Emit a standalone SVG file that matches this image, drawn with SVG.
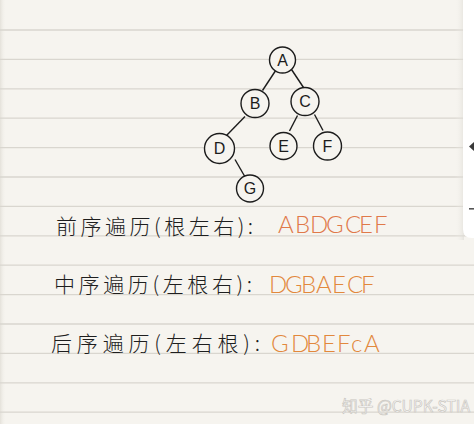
<svg xmlns="http://www.w3.org/2000/svg" width="474" height="424" viewBox="0 0 474 424">
<defs>
<linearGradient id="edge" x1="0" x2="1" y1="0" y2="0">
<stop offset="0" stop-color="#e4e1da"/>
<stop offset="1" stop-color="#f6f4ef" stop-opacity="0"/>
</linearGradient>
<linearGradient id="shadow" x1="0" x2="1" y1="0" y2="0">
<stop offset="0" stop-color="#f6f4ef" stop-opacity="0"/>
<stop offset="1" stop-color="#dcdad4"/>
</linearGradient>
</defs>
<style>
.rule{stroke:#d9d6cf;stroke-width:1.3}
.node circle{fill:#f6f4ef;stroke:#1c1c1c;stroke-width:1.4}
.node text{font-family:"Liberation Sans","DejaVu Sans",sans-serif;font-size:16px;fill:#1c1c1c;text-anchor:middle}
.edge{stroke:#1c1c1c;stroke-width:1.4;fill:none}
.cn{font-family:"Noto Sans CJK SC","Noto Sans",sans-serif;font-size:21px;fill:#1e1e1e;font-weight:300}
.seq{font-family:Lato,"Liberation Sans",sans-serif;font-size:24px;font-weight:300}
</style>
<rect width="474" height="424" fill="#f6f4ef"/>
<rect width="6" height="424" fill="url(#edge)"/>
<g id="rules">
<line class="rule" x1="0" y1="30" x2="474" y2="30"/>
<line class="rule" x1="0" y1="59.4" x2="474" y2="59.4"/>
<line class="rule" x1="0" y1="88.8" x2="474" y2="88.8"/>
<line class="rule" x1="0" y1="118.2" x2="474" y2="118.2"/>
<line class="rule" x1="0" y1="147.6" x2="474" y2="147.6"/>
<line class="rule" x1="0" y1="177" x2="474" y2="177"/>
<line class="rule" x1="0" y1="206.4" x2="474" y2="206.4"/>
<line class="rule" x1="0" y1="235.8" x2="474" y2="235.8"/>
<line class="rule" x1="0" y1="265.2" x2="474" y2="265.2"/>
<line class="rule" x1="0" y1="294.6" x2="474" y2="294.6"/>
<line class="rule" x1="0" y1="324" x2="474" y2="324"/>
<line class="rule" x1="0" y1="353.4" x2="474" y2="353.4"/>
<line class="rule" x1="0" y1="382.8" x2="474" y2="382.8"/>
<line class="rule" x1="0" y1="412.2" x2="474" y2="412.2"/>
</g>
<g id="panel">
<rect x="455" y="0" width="9" height="240" fill="url(#shadow)" opacity="0.6"/>
<path d="M463 0 H474 V238 H472 Q463 238 463 229 Z" fill="#ffffff"/>
<path d="M474 142 L469 146.5 L474 151 Z" fill="#3a3a3a"/>
<rect x="469" y="208" width="5" height="1.6" fill="#555"/>
</g>
<g id="connectors">
<line class="edge" x1="276" y1="70" x2="262.5" y2="90.5"/>
<line class="edge" x1="291.5" y1="69.5" x2="304.5" y2="89"/>
<line class="edge" x1="245" y1="116.5" x2="226" y2="136"/>
<line class="edge" x1="297.5" y1="115.5" x2="289.5" y2="131"/>
<line class="edge" x1="314.5" y1="114.5" x2="323" y2="130.5"/>
<line class="edge" x1="235" y1="159.5" x2="244.5" y2="176"/>
</g>
<g id="node-A" class="node"><circle cx="282.5" cy="60" r="13"/><text x="282.5" y="65.5">A</text></g>
<g id="node-B" class="node"><circle cx="255" cy="103.5" r="14"/><text x="255" y="109">B</text></g>
<g id="node-C" class="node"><circle cx="305" cy="101.5" r="14"/><text x="305" y="107">C</text></g>
<g id="node-D" class="node"><circle cx="219.5" cy="148.5" r="15"/><text x="219.5" y="154">D</text></g>
<g id="node-E" class="node"><circle cx="283.5" cy="146" r="13.5"/><text x="283.5" y="151.5">E</text></g>
<g id="node-F" class="node"><circle cx="327.5" cy="146" r="14"/><text x="327.5" y="151.5">F</text></g>
<g id="node-G" class="node"><circle cx="250" cy="188.5" r="13.5"/><text x="250" y="194">G</text></g>
<g id="labels">
<text class="cn" x="56" y="234" textLength="197" lengthAdjust="spacing">前序遍历(根左右):</text>
<text class="seq" x="278 295 310 326 345 359 374" y="233" fill="#e0794a">ABDGCEF</text>
<text class="cn" x="54" y="292" textLength="198" lengthAdjust="spacing">中序遍历(左根右):</text>
<text class="seq" x="269 285 301 316 332 347 361" y="293" fill="#e2883c">DGBAECF</text>
<text class="cn" x="51" y="351" textLength="209" lengthAdjust="spacing">后序遍历(左右根):</text>
<text class="seq" x="271 291 306 322 337 351 364" y="352" fill="#e2883c">GDBEFcA</text>
</g>
<text x="342" y="412" font-family="'Noto Sans CJK SC','Noto Sans',sans-serif" font-size="16" fill="#ffffff" stroke="#c9c6bf" stroke-width="0.7" textLength="128" lengthAdjust="spacingAndGlyphs">知乎 @CUPK-STIA</text>
</svg>
